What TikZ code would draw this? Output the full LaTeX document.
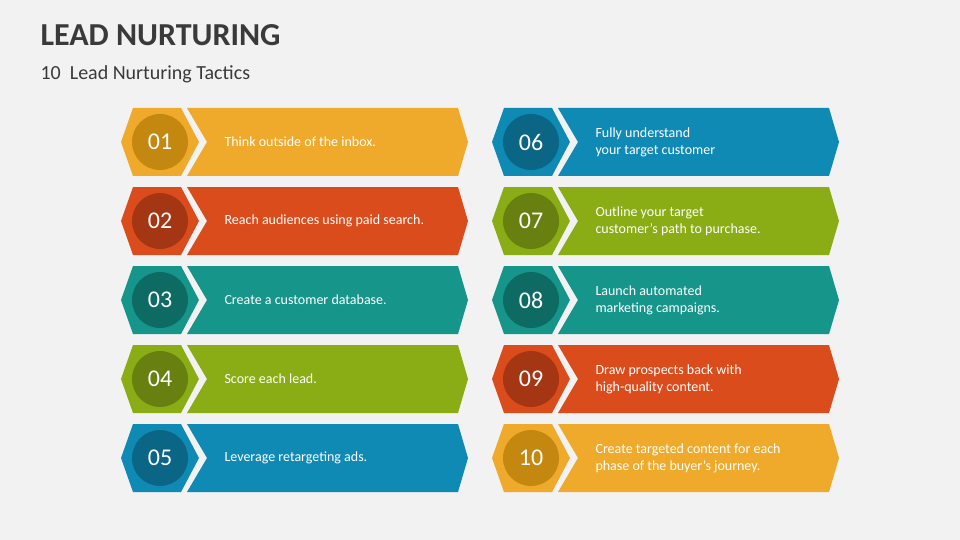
\documentclass[tikz,border=0pt]{standalone}
\usepackage{fontspec}
\setmainfont{Carlito}
\definecolor{bg}{HTML}{F2F2F2}
\definecolor{cY}{HTML}{EFAA2B}\definecolor{dY}{HTML}{C4870F}
\definecolor{cO}{HTML}{DB4C1C}\definecolor{dO}{HTML}{A53613}
\definecolor{cT}{HTML}{16958A}\definecolor{dT}{HTML}{0E6B63}
\definecolor{cG}{HTML}{8AAC14}\definecolor{dG}{HTML}{67800F}
\definecolor{cB}{HTML}{0F8AB4}\definecolor{dB}{HTML}{0B6585}
\definecolor{ttl}{HTML}{3A3A3A}
\tikzset{txt/.style={text=white,font=\fontsize{14}{17}\selectfont,anchor=west,align=left},
num/.style={text=white,font=\fontsize{24}{28}\selectfont}}
\newcommand{\tacticrow}[6]{% x offset, y center, light, dark, number, text
\begin{scope}[shift={(#1,#2)}]
\fill[#3] (121,0)--(133,-34)--(181,-34)--(199,0)--(181,34)--(133,34)--cycle;
\fill[#3] (187,-34)--(458,-34)--(468,0)--(458,34)--(187,34)--(207,0)--cycle;
\fill[#4] (160,0) circle (28);
\node[num] (n#5) at (160,0) {#5};
\node[txt] (t#5) at (221,0) {#6};
\end{scope}}
\begin{document}
\begin{tikzpicture}[x=1pt,y=-1pt]
\fill[bg] (0,0) rectangle (960,540);
\useasboundingbox (0,0) rectangle (960,540);
\node[anchor=west,text=ttl,font=\fontsize{32}{36}\selectfont\bfseries] (title) at (37,35) {LEAD NURTURING};
\node[anchor=west,text=ttl,font=\fontsize{20}{24}\selectfont] (sub) at (37,74) {10\ \ Lead Nurturing Tactics};
\tacticrow{0}{142}{cY}{dY}{01}{Think outside of the inbox.}
\tacticrow{0}{221}{cO}{dO}{02}{Reach audiences using paid search.}
\tacticrow{0}{300}{cT}{dT}{03}{Create a customer database.}
\tacticrow{0}{379}{cG}{dG}{04}{Score each lead.}
\tacticrow{0}{458}{cB}{dB}{05}{Leverage retargeting ads.}
\tacticrow{371}{142}{cB}{dB}{06}{Fully understand\\your target customer}
\tacticrow{371}{221}{cG}{dG}{07}{Outline your target\\customer’s path to purchase.}
\tacticrow{371}{300}{cT}{dT}{08}{Launch automated\\marketing campaigns.}
\tacticrow{371}{379}{cO}{dO}{09}{Draw prospects back with\\high-quality content.}
\tacticrow{371}{458}{cY}{dY}{10}{Create targeted content for each\\phase of the buyer’s journey.}
\end{tikzpicture}
\end{document}
